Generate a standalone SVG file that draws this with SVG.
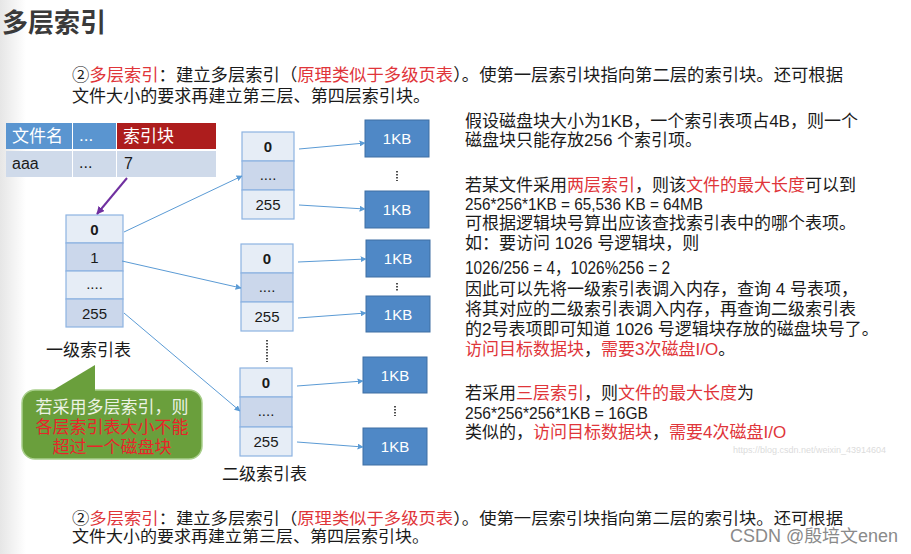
<svg xmlns="http://www.w3.org/2000/svg" width="911" height="554" viewBox="0 0 911 554">
<defs>
<linearGradient id="edge" x1="0" y1="0" x2="1" y2="0">
<stop offset="0" stop-color="#e6e6e6"/>
<stop offset="1" stop-color="#ffffff"/>
</linearGradient>
<marker id="ab" viewBox="0 0 10 10" refX="9" refY="5" markerWidth="6" markerHeight="6" orient="auto" markerUnits="userSpaceOnUse">
<path d="M0,0 L10,5 L0,10 z" fill="#5b9bd5"/>
</marker>
<marker id="ap" viewBox="0 0 10 10" refX="9" refY="5" markerWidth="8" markerHeight="8" orient="auto" markerUnits="userSpaceOnUse">
<path d="M0,0 L10,5 L0,10 z" fill="#7030a0"/>
</marker>
<style>
text{font-family:"Liberation Sans","Noto Sans CJK SC",sans-serif;font-size:17px;fill:#1a1a1a}
.t{font-size:26px;font-weight:bold;fill:#3a3a3a}
.r{fill:#e0353a}
.cl{fill:#e6edf6;stroke:#8db3e2;stroke-width:1.2}
.cd{fill:#cbd7eb;stroke:#8db3e2;stroke-width:1.2}
.ct{font-size:15px;text-anchor:middle}
.b{font-weight:bold}
.kb{fill:#4f88c6;stroke:#3f6fa3;stroke-width:1}
.kt{fill:#ffffff;font-size:15px;text-anchor:middle}
.con{stroke:#5b9bd5;stroke-width:1;fill:none;marker-end:url(#ab)}
.dot{stroke:#222;stroke-width:1.6;stroke-dasharray:1.4 1.6}
.hd{fill:#ffffff;font-size:17px}
.bt{font-size:16px}
</style>
</defs>
<rect x="0" y="0" width="911" height="554" fill="#ffffff"/>
<rect x="0" y="0" width="26" height="554" fill="url(#edge)"/>

<g id="title"><text class="t" x="2" y="32">多层索引</text></g>

<g id="intro">
<text x="72" y="81" textLength="771" lengthAdjust="spacingAndGlyphs">②<tspan class="r">多层索引</tspan>：建立多层索引（<tspan class="r">原理类似于多级页表</tspan>）。使第一层索引块指向第二层的索引块。还可根据</text>
<text x="72" y="102" textLength="358" lengthAdjust="spacingAndGlyphs">文件大小的要求再建立第三层、第四层索引块。</text>
</g>

<g id="file-table">
<rect x="6" y="123" width="66" height="26" fill="#5a95d0"/>
<rect x="73" y="123" width="43" height="26" fill="#5a95d0"/>
<rect x="117" y="123" width="99" height="26" fill="#ad1d1d"/>
<rect x="6" y="151" width="66" height="26" fill="#cfdaea"/>
<rect x="73" y="151" width="43" height="26" fill="#cfdaea"/>
<rect x="117" y="151" width="99" height="26" fill="#cfdaea"/>
<text class="hd" x="12" y="142">文件名</text>
<text class="hd" x="79" y="141">...</text>
<text class="hd" x="123" y="142">索引块</text>
<text x="12" y="169" style="font-size:16px">aaa</text>
<text x="79" y="168" style="font-size:16px">...</text>
<text x="124" y="169" style="font-size:16px">7</text>
</g>

<g id="level1">
<rect class="cl" x="66" y="215" width="57" height="28"/>
<rect class="cd" x="66" y="243" width="57" height="28"/>
<rect class="cl" x="66" y="271" width="57" height="28"/>
<rect class="cd" x="66" y="299" width="57" height="28"/>
<text class="ct b" x="94.5" y="235">0</text>
<text class="ct" x="94.5" y="263">1</text>
<text class="ct" x="94.5" y="289">....</text>
<text class="ct" x="94.5" y="319">255</text>
<text x="46" y="356">一级索引表</text>
</g>

<g id="level2-a">
<rect class="cl" x="242" y="132" width="52" height="29"/>
<rect class="cd" x="242" y="161" width="52" height="29"/>
<rect class="cl" x="242" y="190" width="52" height="29"/>
<text class="ct b" x="268" y="152">0</text>
<text class="ct" x="268" y="180">....</text>
<text class="ct" x="268" y="210">255</text>
</g>
<g id="level2-b">
<rect class="cl" x="241" y="244" width="52" height="29"/>
<rect class="cd" x="241" y="273" width="52" height="29"/>
<rect class="cl" x="241" y="302" width="52" height="29"/>
<text class="ct b" x="267" y="264">0</text>
<text class="ct" x="267" y="292">....</text>
<text class="ct" x="267" y="322">255</text>
</g>
<g id="level2-c">
<rect class="cl" x="240" y="368" width="52" height="29"/>
<rect class="cd" x="240" y="397" width="52" height="30"/>
<rect class="cl" x="240" y="427" width="52" height="29"/>
<text class="ct b" x="266" y="388">0</text>
<text class="ct" x="266" y="416">....</text>
<text class="ct" x="266" y="447">255</text>
<text x="222" y="480">二级索引表</text>
</g>

<g id="blocks">
<rect class="kb" x="365" y="120" width="64" height="37"/><text class="kt" x="397" y="144">1KB</text>
<rect class="kb" x="365" y="191" width="64" height="37"/><text class="kt" x="397" y="215">1KB</text>
<rect class="kb" x="366" y="240" width="64" height="37"/><text class="kt" x="398" y="264">1KB</text>
<rect class="kb" x="366" y="296" width="64" height="36"/><text class="kt" x="398" y="320">1KB</text>
<rect class="kb" x="363" y="357" width="64" height="36"/><text class="kt" x="395" y="381">1KB</text>
<rect class="kb" x="363" y="428" width="64" height="37"/><text class="kt" x="395" y="452">1KB</text>
<line class="dot" x1="397" y1="171" x2="397" y2="181"/>
<line class="dot" x1="397" y1="283" x2="397" y2="292"/>
<line class="dot" x1="395" y1="406" x2="395" y2="416"/>
<line class="dot" x1="267" y1="340" x2="267" y2="362"/>
</g>

<g id="callout">
<rect x="22" y="390" width="180" height="69" rx="13" fill="#6a9f3c" stroke="#a9cf8c" stroke-width="1.5"/>
<path d="M95,365 L95,392 L50,392 Z" fill="#6a9f3c"/>
<text x="112" y="413" text-anchor="middle" style="fill:#edf3e6">若采用多层索引，则</text>
<text x="112" y="433" text-anchor="middle" style="fill:#e8242a">各层索引表大小不能</text>
<text x="112" y="453" text-anchor="middle" style="fill:#e8242a">超过一个磁盘块</text>
</g>

<g id="connectors">
<line x1="127" y1="178" x2="97" y2="214" stroke="#7030a0" stroke-width="2" marker-end="url(#ap)"/>
<line class="con" x1="124" y1="232" x2="242" y2="176"/>
<line class="con" x1="122" y1="261" x2="241" y2="288"/>
<line class="con" x1="124" y1="313" x2="240" y2="411"/>
<line class="con" x1="299" y1="149" x2="365" y2="143"/>
<line class="con" x1="299" y1="205" x2="365" y2="209"/>
<line class="con" x1="298" y1="262" x2="366" y2="259"/>
<line class="con" x1="298" y1="318" x2="366" y2="313"/>
<line class="con" x1="297" y1="386" x2="363" y2="381"/>
<line class="con" x1="297" y1="442" x2="363" y2="447"/>
</g>

<g id="notes">
<text x="465" y="127">假设磁盘块大小为1KB，一个索引表项占4B，则一个</text>
<text x="465" y="146">磁盘块只能存放256 个索引项。</text>
<text x="465" y="191">若某文件采用<tspan class="r">两层索引</tspan>，则该<tspan class="r">文件的最大长度</tspan>可以到</text>
<text x="465" y="210" textLength="238" lengthAdjust="spacingAndGlyphs">256*256*1KB = 65,536 KB = 64MB</text>
<text x="465" y="229">可根据逻辑块号算出应该查找索引表中的哪个表项。</text>
<text x="465" y="249">如：要访问 1026 号逻辑块，则</text>
<text x="465" y="274" textLength="205" lengthAdjust="spacingAndGlyphs" style="font-size:17.5px">1026/256 = 4，1026%256 = 2</text>
<text x="465" y="295">因此可以先将一级索引表调入内存，查询 4 号表项，</text>
<text x="465" y="315">将其对应的二级索引表调入内存，再查询二级索引表</text>
<text x="465" y="335">的2号表项即可知道 1026 号逻辑块存放的磁盘块号了。</text>
<text x="465" y="355"><tspan class="r">访问目标数据块</tspan>，<tspan class="r">需要3次磁盘I/O</tspan>。</text>
<text x="465" y="399">若采用<tspan class="r">三层索引</tspan>，则<tspan class="r">文件的最大长度</tspan>为</text>
<text x="465" y="419" textLength="183" lengthAdjust="spacingAndGlyphs">256*256*256*1KB = 16GB</text>
<text x="465" y="438">类似的，<tspan class="r">访问目标数据块</tspan>，<tspan class="r">需要4次磁盘I/O</tspan></text>
</g>

<g id="watermark">
<text x="733" y="453" style="font-size:9px;fill:#dcdcdc">https://blog.csdn.net/weixin_43914604</text>
</g>

<g id="footer">
<text class="bt" x="72" y="524" textLength="771" lengthAdjust="spacingAndGlyphs">②<tspan class="r">多层索引</tspan>：建立多层索引（<tspan class="r">原理类似于多级页表</tspan>）。使第一层索引块指向第二层的索引块。还可根据</text>
<text class="bt" x="72" y="542" textLength="357" lengthAdjust="spacingAndGlyphs">文件大小的要求再建立第三层、第四层索引块。</text>
<text x="730" y="542" textLength="168" lengthAdjust="spacingAndGlyphs" style="font-size:17.5px;fill:#8a8a8a">CSDN @殷培文enen</text>
</g>
</svg>
